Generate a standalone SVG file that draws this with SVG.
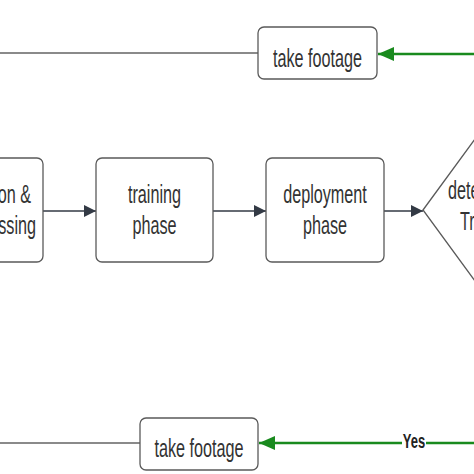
<svg xmlns="http://www.w3.org/2000/svg" width="474" height="474" viewBox="0 0 474 474">
<style>
.box{fill:#fff;stroke:#5a5a5a;stroke-width:1.3}
.t{font-family:"Liberation Sans",Arial,sans-serif;font-size:16.2px;fill:#333;text-anchor:middle}
.ts{font-family:"Liberation Sans",Arial,sans-serif;font-size:16.2px;fill:#333;text-anchor:start}
.end{font-family:"Liberation Sans",Arial,sans-serif;font-size:16.2px;fill:#333;text-anchor:end}
.blk{stroke:#333a45;stroke-width:1.6;fill:none}
.grn{stroke:#198a1e;stroke-width:2.6;fill:none}
.gry{stroke:#8a8a8a;stroke-width:2;fill:none}
.yes{font-family:"Liberation Sans",Arial,sans-serif;font-size:13px;font-weight:bold;fill:#222;text-anchor:middle}
</style>
<defs>
<marker id="ab" viewBox="0 0 12 12" refX="12" refY="6" markerWidth="12" markerHeight="12" markerUnits="userSpaceOnUse" orient="auto">
<path d="M0,0 L12,6 L0,12 Z" fill="#333a45"/>
</marker>
<marker id="ag" viewBox="0 0 16 14" refX="16" refY="7" markerWidth="16" markerHeight="14" markerUnits="userSpaceOnUse" orient="auto">
<path d="M0,0 L16,7 L0,14 Z" fill="#198a1e"/>
</marker>
</defs>
<rect width="474" height="474" fill="#fff"/>
<g id="connectors">
<line class="gry" x1="0" y1="53" x2="258" y2="53"/>
<line class="grn" x1="474" y1="54" x2="378" y2="54" marker-end="url(#ag)"/>
<line class="blk" x1="43" y1="211" x2="96" y2="211" marker-end="url(#ab)"/>
<line class="blk" x1="213" y1="211" x2="266" y2="211" marker-end="url(#ab)"/>
<line class="blk" x1="384" y1="211" x2="423" y2="211" marker-end="url(#ab)"/>
<line class="gry" x1="0" y1="443" x2="140" y2="443"/>
<line class="grn" x1="474" y1="443" x2="259" y2="443" marker-end="url(#ag)"/>
<rect x="402" y="433" width="24" height="18" fill="#fff"/>
<text class="yes" transform="translate(414,448) scale(1,1.6)">Yes</text>
</g>
<g id="n-take-top">
<rect class="box" x="258" y="27" width="119" height="52" rx="6"/>
<text class="t" transform="translate(317.5,66.5) scale(1,1.6)">take footage</text>
</g>
<g id="n-collection">
<rect class="box" x="-75" y="158" width="118" height="104" rx="6"/>
<text class="end" transform="translate(31,203) scale(1,1.6)">collection &amp;</text>
<text class="end" transform="translate(36,234) scale(1,1.6)">processing</text>
</g>
<g id="n-training">
<rect class="box" x="96" y="158" width="117" height="104" rx="6"/>
<text class="t" transform="translate(154.5,203) scale(1,1.6)">training</text>
<text class="t" transform="translate(154.5,234) scale(1,1.6)">phase</text>
</g>
<g id="n-deployment">
<rect class="box" x="266" y="158" width="118" height="104" rx="6"/>
<text class="t" transform="translate(325,203) scale(1,1.6)">deployment</text>
<text class="t" transform="translate(325,234) scale(1,1.6)">phase</text>
</g>
<g id="n-detect">
<polygon class="box" points="423,210 524,72 625,210 524,348"/>
<text class="ts" transform="translate(448,199) scale(1,1.6)">detect</text>
<text class="ts" transform="translate(460,230) scale(1,1.6)">Traffic</text>
</g>
<g id="n-take-bottom">
<rect class="box" x="140" y="418" width="118" height="52" rx="6"/>
<text class="t" transform="translate(199,457) scale(1,1.6)">take footage</text>
</g>
</svg>
